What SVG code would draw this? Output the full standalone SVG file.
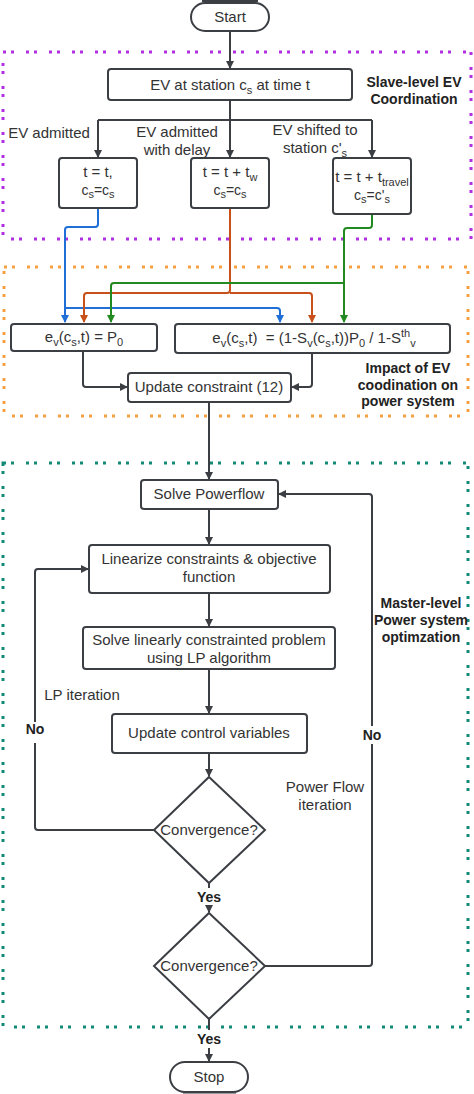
<svg xmlns="http://www.w3.org/2000/svg" width="474" height="1094" viewBox="0 0 474 1094">
<style>
text{font-family:"Liberation Sans",Arial,sans-serif;fill:#333;font-size:15px;text-anchor:middle}
.b{font-weight:bold;font-size:14px;fill:#222}
.sm{font-size:14px}
.sub{font-size:11px}
.box{fill:#fff;stroke:#3b3f44;stroke-width:2}
.ln{fill:none;stroke:#3b3f44;stroke-width:2}
.blue{fill:none;stroke:#1f6fd6;stroke-width:2}
.org{fill:none;stroke:#c8501a;stroke-width:2}
.grn{fill:none;stroke:#218b21;stroke-width:2}
.grp{fill:none;stroke-width:3;stroke-dasharray:3 5 3 12}
</style>
<defs>
<marker id="ak" markerWidth="8" markerHeight="8" refX="7" refY="4" orient="auto" markerUnits="userSpaceOnUse"><path d="M0,0 L8,4 L0,8 z" fill="#3b3f44"/></marker>
<marker id="ab" markerWidth="8" markerHeight="8" refX="7" refY="4" orient="auto" markerUnits="userSpaceOnUse"><path d="M0,0 L8,4 L0,8 z" fill="#1f6fd6"/></marker>
<marker id="ao" markerWidth="8" markerHeight="8" refX="7" refY="4" orient="auto" markerUnits="userSpaceOnUse"><path d="M0,0 L8,4 L0,8 z" fill="#c8501a"/></marker>
<marker id="ag" markerWidth="8" markerHeight="8" refX="7" refY="4" orient="auto" markerUnits="userSpaceOnUse"><path d="M0,0 L8,4 L0,8 z" fill="#218b21"/></marker>
</defs>
<rect width="474" height="1094" fill="#fff"/>

<g id="groups">
<rect x="3" y="52" width="468" height="187" class="grp" stroke="#b02fe0"/>
<rect x="4" y="267" width="464" height="149" class="grp" stroke="#f5a142"/>
<rect x="3" y="463" width="465" height="564" class="grp" stroke="#128a76"/>
<text class="b" x="414" y="87">Slave-level EV</text>
<text class="b" x="414" y="104">Coordination</text>
<text class="b" x="408" y="373">Impact of EV</text>
<text class="b" x="408" y="390">coodination on</text>
<text class="b" x="408" y="406">power system</text>
<text class="b" x="421" y="608">Master-level</text>
<text class="b" x="421" y="625">Power system</text>
<text class="b" x="421" y="642">optimzation</text>
</g>

<g id="connectors">
<line x1="230" y1="31" x2="230" y2="68" class="ln" marker-end="url(#ak)"/>
<path d="M230,100 V120 M98,120 H372" class="ln"/>
<line x1="98" y1="120" x2="98" y2="157" class="ln" marker-end="url(#ak)"/>
<line x1="230" y1="120" x2="230" y2="157" class="ln" marker-end="url(#ak)"/>
<line x1="372" y1="120" x2="372" y2="157" class="ln" marker-end="url(#ak)"/>
<path d="M98,208 V224 Q98,227 95,227 H68 Q65,227 65,230 V322" class="blue" marker-end="url(#ab)"/>
<path d="M65,308 H277 Q280,308 280,311 V322" class="blue" marker-end="url(#ab)"/>
<path d="M230,208 V290 Q230,293 227,293 H87 Q84,293 84,296 V322" class="org" marker-end="url(#ao)"/>
<path d="M230,293 H309 Q312,293 312,296 V322" class="org" marker-end="url(#ao)"/>
<path d="M372,214 V225 Q372,228 369,228 H347 Q344,228 344,231 V322" class="grn" marker-end="url(#ag)"/>
<path d="M344,283 H114 Q111,283 111,286 V322" class="grn" marker-end="url(#ag)"/>
<path d="M83,351 V384 Q83,387 86,387 H127" class="ln" marker-end="url(#ak)"/>
<path d="M312,353 V384 Q312,387 309,387 H292" class="ln" marker-end="url(#ak)"/>
<line x1="209" y1="402" x2="209" y2="479" class="ln" marker-end="url(#ak)"/>
<line x1="209" y1="509" x2="209" y2="544" class="ln" marker-end="url(#ak)"/>
<line x1="209" y1="593" x2="209" y2="626" class="ln" marker-end="url(#ak)"/>
<line x1="209" y1="669" x2="209" y2="713" class="ln" marker-end="url(#ak)"/>
<line x1="209" y1="753" x2="209" y2="776" class="ln" marker-end="url(#ak)"/>
<path d="M154,830 H38 Q35,830 35,827 V743 M35,722 V572 Q35,569 38,569 H88" class="ln" marker-end="url(#ak)"/>
<path d="M265,966 H369 Q372,966 372,963 V744 M372,726 V497 Q372,494 369,494 H279" class="ln" marker-end="url(#ak)"/>
<line x1="209" y1="883" x2="209" y2="888" class="ln"/>
<line x1="209" y1="906" x2="209" y2="912" class="ln" marker-end="url(#ak)"/>
<line x1="209" y1="1019" x2="209" y2="1030" class="ln"/>
<line x1="209" y1="1048" x2="209" y2="1061" class="ln" marker-end="url(#ak)"/>
<text x="49" y="138">EV admitted</text>
<text x="177" y="137">EV admitted</text>
<text x="177" y="155">with delay</text>
<text x="315" y="135">EV shifted to</text>
<text x="315" y="153">station c'<tspan class="sub" dy="4">s</tspan></text>
<text class="b" x="35" y="734">No</text>
<text class="b" x="372" y="740">No</text>
<text x="82" y="700">LP iteration</text>
<text x="325" y="792">Power Flow</text>
<text x="325" y="810">iteration</text>
<text class="b" x="209" y="902">Yes</text>
<text class="b" x="209" y="1044">Yes</text>
</g>

<g id="start">
<rect x="202" y="0" width="56" height="2" fill="#3b3f44"/>
<rect x="191" y="3" width="78" height="28" rx="14" class="box"/>
<text x="230" y="22">Start</text>
</g>
<g id="ev-station">
<rect x="108" y="69" width="244" height="31" rx="3" class="box"/>
<text x="230" y="90">EV at station c<tspan class="sub" dy="4">s</tspan><tspan dy="-4"> at time t</tspan></text>
</g>
<g id="admitted">
<rect x="59" y="158" width="78" height="50" rx="3" class="box"/>
<text x="98" y="177">t = t,</text>
<text x="98" y="195" class="sm">c<tspan class="sub" dy="3">s</tspan><tspan dy="-3">=c</tspan><tspan class="sub" dy="3">s</tspan></text>
</g>
<g id="delay">
<rect x="191" y="158" width="78" height="50" rx="3" class="box"/>
<text x="230" y="177">t = t + t<tspan class="sub" dy="4">w</tspan></text>
<text x="230" y="195" class="sm">c<tspan class="sub" dy="3">s</tspan><tspan dy="-3">=c</tspan><tspan class="sub" dy="3">s</tspan></text>
</g>
<g id="shifted">
<rect x="333" y="158" width="78" height="56" rx="3" class="box"/>
<text x="372" y="182">t = t + t<tspan class="sub" dy="4">travel</tspan></text>
<text x="372" y="200" class="sm">c<tspan class="sub" dy="3">s</tspan><tspan dy="-3">=c'</tspan><tspan class="sub" dy="3">s</tspan></text>
</g>
<g id="ev-p0">
<rect x="11" y="324" width="146" height="27" rx="3" class="box"/>
<text x="84" y="342">e<tspan class="sub" dy="4">v</tspan><tspan dy="-4">(c</tspan><tspan class="sub" dy="4">s</tspan><tspan dy="-4">,t) = P</tspan><tspan class="sub" dy="4">0</tspan></text>
</g>
<g id="ev-formula">
<rect x="175" y="324" width="275" height="29" rx="3" class="box"/>
<text x="314" y="343">e<tspan class="sub" dy="4">v</tspan><tspan dy="-4">(c</tspan><tspan class="sub" dy="4">s</tspan><tspan dy="-4">,t)&#160; = (1-S</tspan><tspan class="sub" dy="4">v</tspan><tspan dy="-4">(c</tspan><tspan class="sub" dy="4">s</tspan><tspan dy="-4">,t))P</tspan><tspan class="sub" dy="4">0</tspan><tspan dy="-4"> / 1-S</tspan><tspan class="sub" dy="-6">th</tspan><tspan class="sub" dy="10">v</tspan></text>
</g>
<g id="update-constraint">
<rect x="128" y="373" width="163" height="29" rx="3" class="box"/>
<text x="209" y="392">Update constraint (12)</text>
</g>
<g id="solve-powerflow">
<rect x="141" y="480" width="137" height="29" rx="3" class="box"/>
<text x="209" y="499">Solve Powerflow</text>
</g>
<g id="linearize">
<rect x="89" y="545" width="241" height="48" rx="3" class="box"/>
<text x="209" y="564">Linearize constraints &amp; objective</text>
<text x="209" y="582">function</text>
</g>
<g id="solve-lp">
<rect x="83" y="627" width="252" height="42" rx="3" class="box"/>
<text x="209" y="645">Solve linearly constrainted problem</text>
<text x="209" y="663">using LP algorithm</text>
</g>
<g id="update-control">
<rect x="112" y="714" width="195" height="39" rx="3" class="box"/>
<text x="209" y="738">Update control variables</text>
</g>
<g id="conv1">
<polygon points="209,777 265,830 209,883 154,830" class="box"/>
<text x="209" y="835">Convergence?</text>
</g>
<g id="conv2">
<polygon points="209,913 265,966 209,1019 154,966" class="box"/>
<text x="209" y="971">Convergence?</text>
</g>
<g id="stop">
<rect x="183" y="1092" width="53" height="2" fill="#9a9da0"/>
<rect x="170" y="1062" width="78" height="30" rx="15" class="box"/>
<text x="209" y="1082">Stop</text>
</g>
</svg>
